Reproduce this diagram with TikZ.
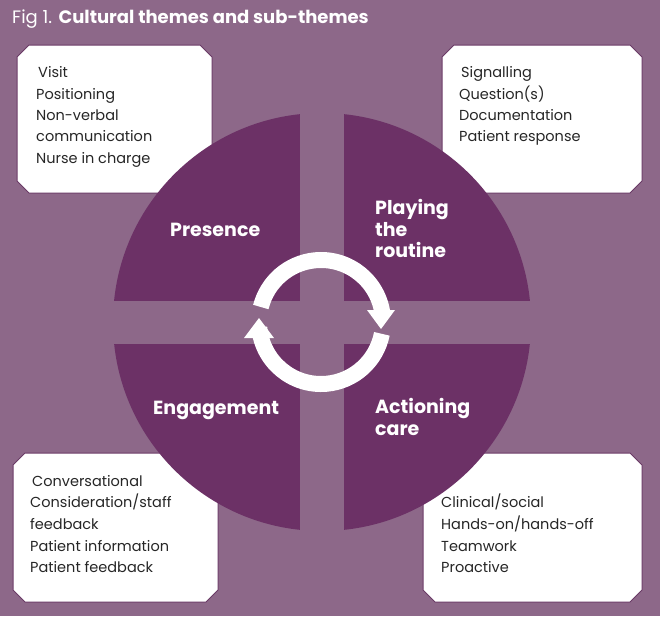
\documentclass[tikz,border=0pt]{standalone}
\usepackage{fontspec}
\setmainfont{Poppins}
\newfontfamily\bodyf{Poppins}
\definecolor{bgp}{HTML}{8D6889}
\definecolor{qp}{HTML}{6C3166}
\definecolor{bx}{HTML}{6A3A66}
\begin{document}
\begin{tikzpicture}[x=1pt,y=-1pt,
  box/.style={fill=white,draw=bx,line width=1pt},
  item/.style={anchor=base west,inner sep=0pt,font=\fontsize{14.5}{16}\selectfont\bodyf,text=black!85},
  theme/.style={anchor=base west,inner sep=0pt,font=\fontsize{19}{21}\selectfont\bfseries,text=white},
  ring/.style={draw=white,line width=16pt}]
\useasboundingbox (0,0) rectangle (660,616);
\fill[bgp] (0,0) rectangle (660,616);
\node[anchor=base west,inner sep=0pt,text=white,font=\fontsize{18}{20}\selectfont] (title) at (12,23) {\addfontfeature{FakeBold=0}{\fontseries{l}\selectfont Fig 1.} \textbf{Cultural themes and sub-themes}};
% boxes
\def\chb#1#2#3#4{(#1+12,#2) -- (#3-12,#2) -- (#3,#2+12) -- (#3,#4-12) -- (#3-12,#4) -- (#1+12,#4) -- (#1,#4-12) -- (#1,#2+12) -- cycle}
\draw[box] \chb{17}{45}{212}{193};
\draw[box] \chb{442}{45}{642}{193};
\draw[box] \chb{13}{453}{218}{602};
\draw[box] \chb{423}{453}{642}{602};
% quadrants
\begin{scope}
\clip (322,322) circle (209);
\fill[qp] (100,100) rectangle (300,301);
\fill[qp] (344,100) rectangle (540,301);
\fill[qp] (100,344) rectangle (300,540);
\fill[qp] (344,344) rectangle (540,540);
\end{scope}
% ring
\coordinate (rc) at (321,322);
\draw[ring] ([shift={(175:62)}]rc) arc[start angle=175,end angle=11,radius=62];
\draw[ring] ([shift={(-6:62)}]rc) arc[start angle=-6,end angle=-166,radius=62];
\fill[white] (367,310) -- (395,310) -- (381,329) -- cycle;
\fill[white] (244,338) -- (274,338) -- (259,318) -- cycle;
% theme labels
\node[theme] (pres) at (170,236) {Presence};
\node[theme,align=left] (play) at (375,214) {Playing};
\node[theme] (play2) at (375,236) {the};
\node[theme] (play3) at (375,257) {routine};
\node[theme] (eng) at (153,414) {Engagement};
\node[theme] (act) at (375,413) {Actioning};
\node[theme] (act2) at (375,435) {care};
% items
\node[item] at (38,77) {Visit};
\node[item] at (36,99) {Positioning};
\node[item] at (36,120) {Non-verbal};
\node[item] at (36,141) {communication};
\node[item] at (36,163) {Nurse in charge};
\node[item] at (461,77) {Signalling};
\node[item] at (459,99) {Question(s)};
\node[item] at (459,120) {Documentation};
\node[item] at (459,141) {Patient response};
\node[item] at (32,486) {Conversational};
\node[item] at (30,507) {Consideration/staff};
\node[item] at (30,529) {feedback};
\node[item] at (30,551) {Patient information};
\node[item] at (30,572) {Patient feedback};
\node[item] at (441,507) {Clinical/social};
\node[item] at (441,529) {Hands-on/hands-off};
\node[item] at (441,551) {Teamwork};
\node[item] at (441,572) {Proactive};
\end{tikzpicture}
\end{document}
